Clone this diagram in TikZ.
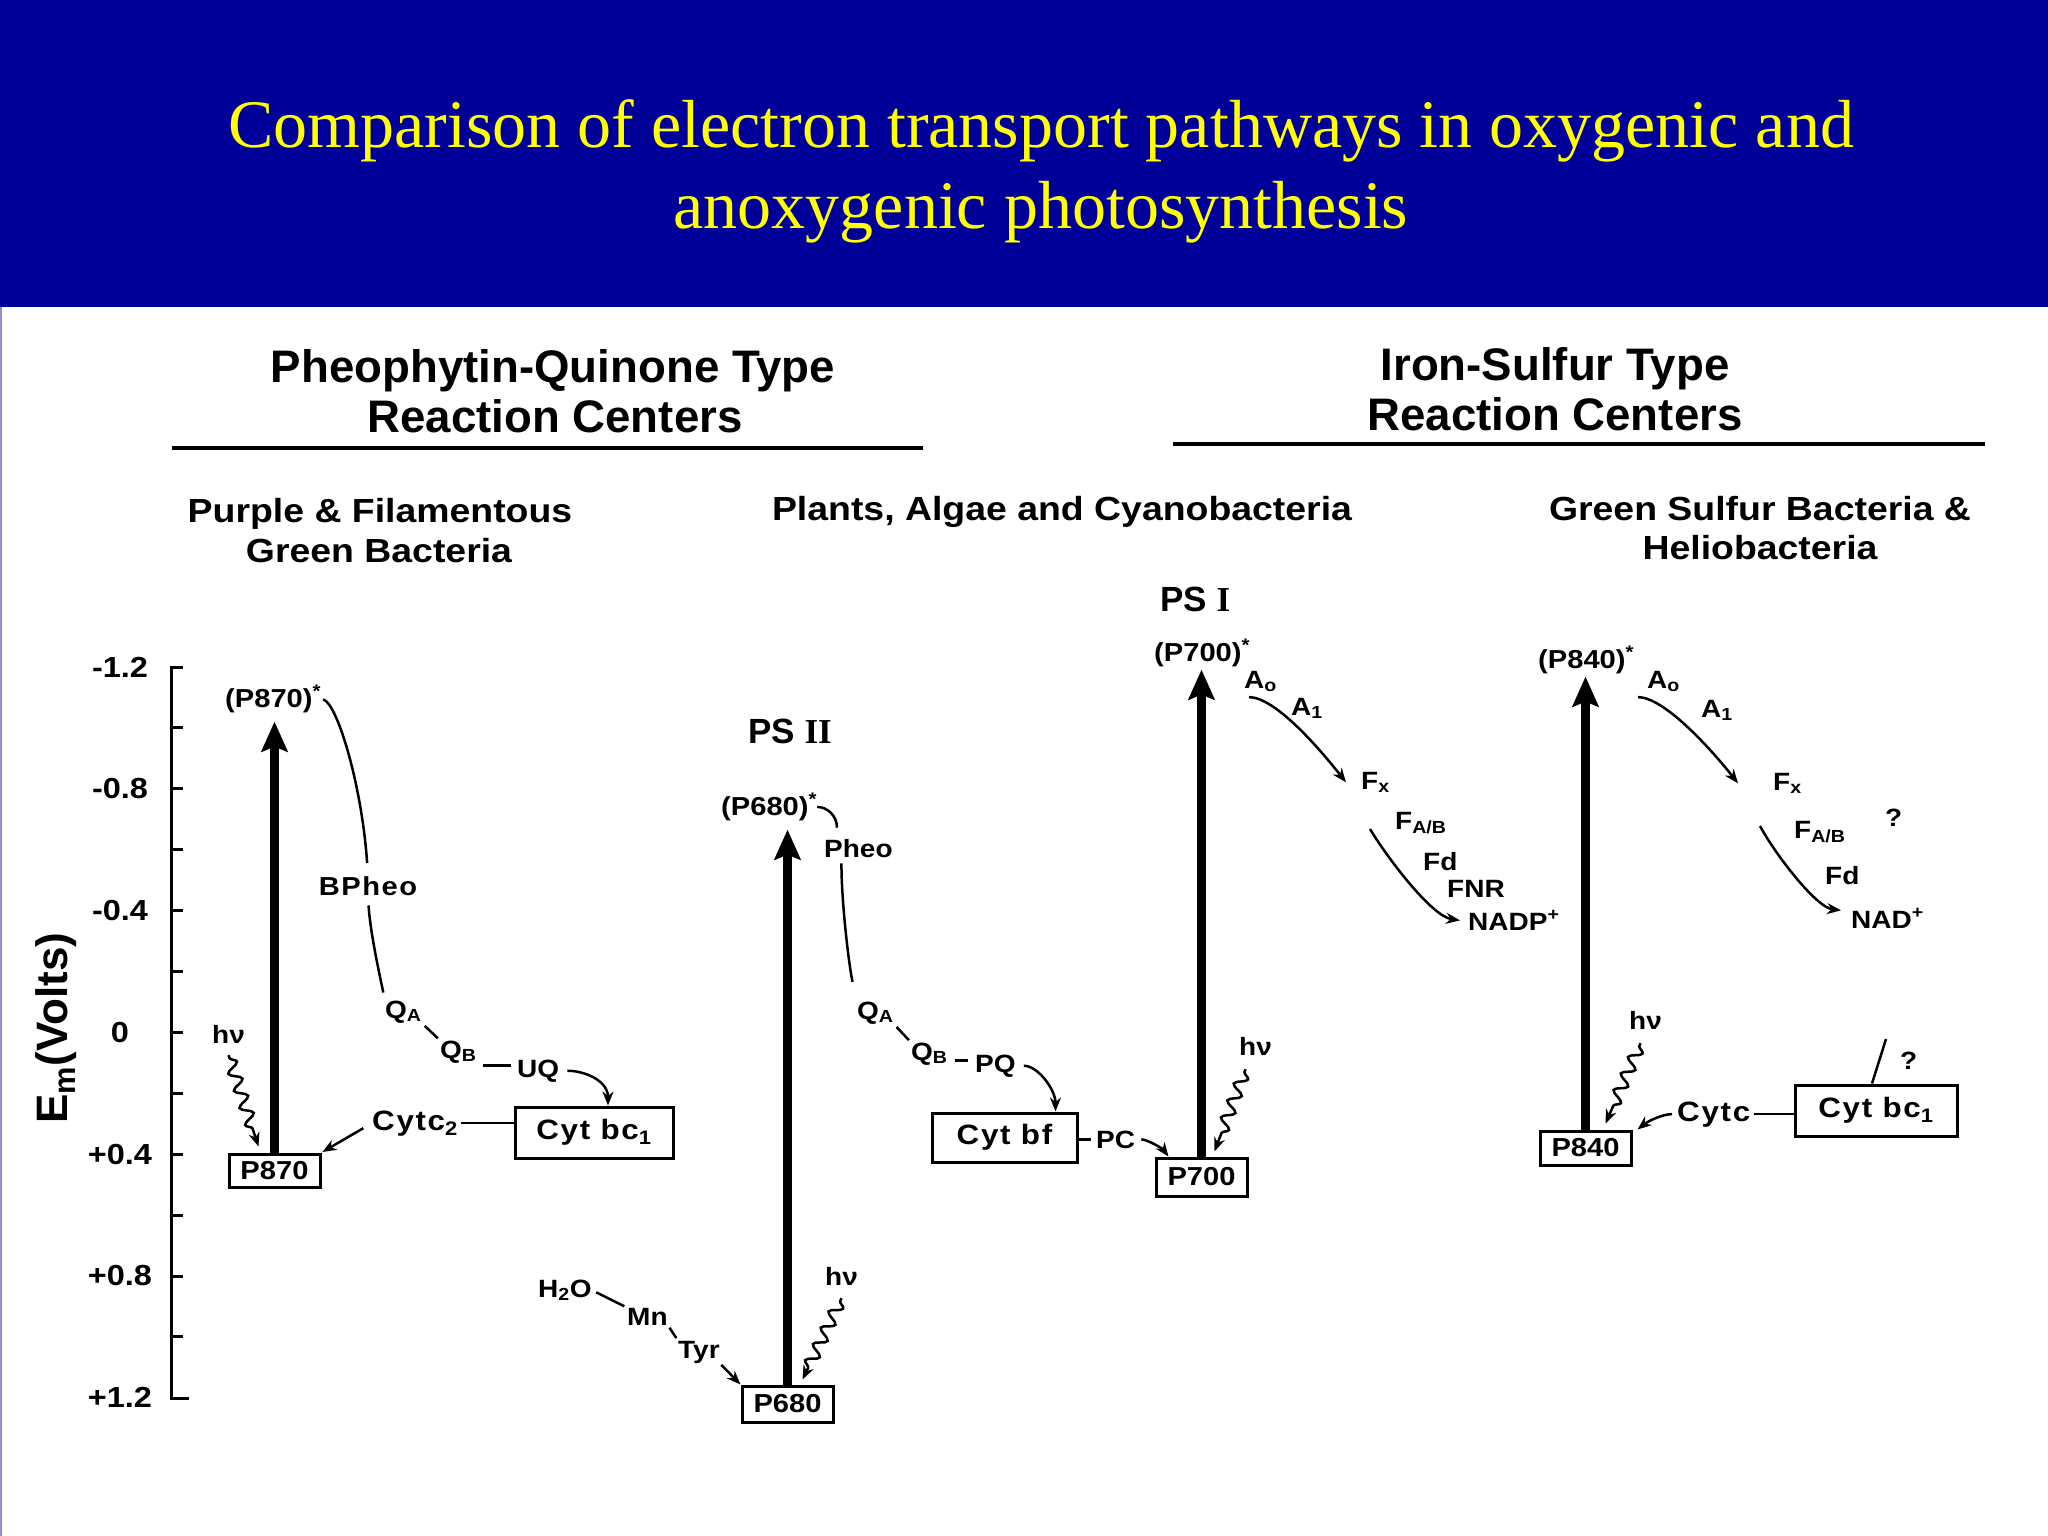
\documentclass[tikz,border=0pt]{standalone}
\usepackage{fontspec}
\setmainfont{Liberation Sans}
\newfontfamily\ls{Liberation Sans}[FakeStretch=1.12]
\newfontfamily\lsw{Liberation Sans}[FakeStretch=1.12,LetterSpace=6]
\newfontfamily\hs{Liberation Sans}
\newfontfamily\rs{Liberation Serif}
\usetikzlibrary{arrows.meta,decorations.pathmorphing,calc}
\definecolor{bandblue}{RGB}{0,0,153}
\definecolor{titleyellow}{RGB}{255,255,0}
\definecolor{edgelav}{RGB}{150,140,210}
\newcommand\fsz[1]{\fontsize{#1}{#1}\selectfont}
\begin{document}
\begin{tikzpicture}[x=1pt,y=-1pt,
  lab/.style={font=\ls\bfseries\fsz{25}, inner sep=0pt, anchor=base west},
  labw/.style={font=\lsw\bfseries\fsz{28}, inner sep=0pt, anchor=base west},
  starlab/.style={font=\ls\bfseries\fsz{26}, inner sep=0pt, anchor=base west},
  titletext/.style={font=\rs\fsz{68}, text=titleyellow, inner sep=0pt, anchor=base},
  hdr/.style={font=\hs\bfseries\fsz{45.6}, inner sep=0pt, anchor=base},
  subhdr/.style={font=\ls\bfseries\fsz{33.4}, inner sep=0pt, anchor=base},
  pslab/.style={font=\hs\bfseries\fsz{35}, inner sep=0pt, anchor=base west},
  axl/.style={font=\ls\bfseries\fsz{29}, inner sep=0pt, anchor=center},
  boxnode/.style={draw, line width=3pt, inner sep=0pt, font=\ls\bfseries\fsz{26}},
  cytbox/.style={draw, line width=3pt, inner sep=0pt, font=\lsw\bfseries\fsz{28}},
  conn/.style={line width=2.5pt},
  arr/.style={line width=2.5pt, -{Stealth[length=14pt,width=11pt]}},
  thickarr/.style={line width=9pt, -{Stealth[length=30pt,width=26pt,inset=5pt]}},
  wavy/.style={line width=2.5pt, -{Stealth[length=14pt,width=11pt]}, decorate,
    decoration={snake, amplitude=6pt, segment length=18pt, pre length=3pt, post length=12pt}},
  rulel/.style={line width=4pt}
]
\useasboundingbox (0,0) rectangle (2048,1536);
\fill[white] (0,0) rectangle (2048,1536);
\fill[bandblue] (0,0) rectangle (2048,307);
\fill[edgelav] (0,307) rectangle (2,1536);

% title
\node[titletext] (t1) at (1041,147) {Comparison of electron transport pathways in oxygenic and};
\node[titletext] (t2) at (1041,228) {anoxygenic photosynthesis};

% headers
\node[hdr] (h1a) at (553,382) {Pheophytin-Quinone Type};
\node[hdr] (h1b) at (555,432) {Reaction Centers};
\draw[rulel] (172,448) -- (923,448);
\node[hdr] (h2a) at (1555,380) {Iron-Sulfur Type};
\node[hdr] (h2b) at (1555,430) {Reaction Centers};
\draw[rulel] (1173,444) -- (1985,444);

\node[subhdr] (sh1a) at (380,522) {Purple \& Filamentous};
\node[subhdr] (sh1b) at (379,562) {Green Bacteria};
\node[subhdr] (sh2) at (1062,520) {Plants, Algae and Cyanobacteria};
\node[subhdr] (sh3a) at (1760,520) {Green Sulfur Bacteria \&};
\node[subhdr] (sh3b) at (1760,559) {Heliobacteria};

% axis
\draw[line width=3pt] (183,667) -- (171,667) -- (171,1398) -- (189,1398);
\foreach \k in {1,...,11} \draw[line width=3pt] (171,{667+60.9*\k}) -- (183,{667+60.9*\k});
\foreach \k/\t in {0/-1.2,2/-0.8,4/-0.4,6/0,8/+0.4,10/+0.8,12/+1.2}
  \node[axl] (ax\k) at (120,{667+60.9*\k}) {\t};
\node[font=\hs\bfseries\fsz{44}, inner sep=0pt, rotate=90] (ylab) at (56,1028) {E\textsubscript{m}(Volts)};

% ---------- column 1 : P870
\node[boxnode, minimum width=91pt, minimum height=33pt] (b870) at (274.5,1170.5) {P870};
\node[cytbox, minimum width=158pt, minimum height=51pt] (cbc1) at (594,1132.5) {Cyt bc\textsubscript{1}};
\node[starlab] (s870) at (225,707) {(P870)\textsuperscript{*}};
\node[labw, font=\lsw\bfseries\fsz{26}, anchor=base] (bpheo) at (368,895) {BPheo};
\node[lab] (qa1) at (385,1018) {Q\textsubscript{A}};
\node[lab] (qb1) at (440,1058) {Q\textsubscript{B}};
\node[lab] (uq1) at (517,1077) {UQ};
\node[labw] (c2) at (372,1130) {Cytc\textsubscript{2}};
\node[lab] (h1) at (212,1043) {hν};

\draw[thickarr, shorten >=9pt] (b870.north) -- (b870.north |- s870.south);
\draw[conn, shorten <=2pt, shorten >=13pt] (s870.east) .. controls +(16,4) and +(-6,-90) .. (bpheo.north);
\draw[conn, shorten <=10pt, shorten >=8pt] (bpheo.south) .. controls +(2,35) and +(-6,-28) .. (qa1.north west);
\draw[conn, shorten <=4pt, shorten >=3pt] (qa1.south east) -- (qb1.north west);
\draw[conn] ($(qb1.east |- uq1.west)+(6,-5)$) -- ($(uq1.west)+(-6,-5)$);
\draw[arr, shorten <=8pt] (uq1.east) .. controls +(25,0) and +(0,-25) .. ([xshift=14pt]cbc1.north);
\draw[conn, shorten <=3pt] (c2.east) -- (c2.east -| cbc1.west);
\draw[arr, shorten <=10pt, shorten >=1pt] (c2.west) -- (b870.north east);
\draw[wavy] ([yshift=-12pt]h1.south) -- ([xshift=-16pt,yshift=6pt]b870.north);

% ---------- column 2 : PS II
\node[pslab] (ps2) at (748,743) {PS {\rs\bfseries II}};
\node[boxnode, minimum width=91pt, minimum height=36pt] (b680) at (787.5,1404) {P680};
\node[cytbox, minimum width=145pt, minimum height=49pt] (cbf) at (1004.5,1137.5) {Cyt bf};
\node[starlab] (s680) at (721,815) {(P680)\textsuperscript{*}};
\node[lab] (pheo2) at (824,857) {Pheo};
\node[lab] (qa2) at (857,1019) {Q\textsubscript{A}};
\node[lab] (qb2) at (911,1060) {Q\textsubscript{B}};
\node[lab] (pq2) at (975,1072) {PQ};
\node[lab] (pc) at (1096,1148) {PC};
\node[lab] (h2o) at (538,1297) {H\textsubscript{2}O};
\node[lab] (mn) at (627,1325) {Mn};
\node[lab] (tyr) at (678,1358) {Tyr};
\node[lab] (h2) at (825,1285) {hν};

% ---------- column 3 : PS I (nodes first, used by PC arrow)
\node[pslab] (ps1) at (1160,611) {PS {\rs\bfseries I}};
\node[boxnode, minimum width=91pt, minimum height=38pt] (b700) at (1201.5,1177) {P700};
\node[starlab] (s700) at (1154,661) {(P700)\textsuperscript{*}};
\node[lab] (ao1) at (1244,688) {A\textsubscript{o}};
\node[lab] (a11) at (1291,715) {A\textsubscript{1}};
\node[lab] (fx1) at (1361,789) {F\textsubscript{x}};
\node[lab] (fab1) at (1395,829) {F\textsubscript{A/B}};
\node[lab] (fd1) at (1423,870) {Fd};
\node[lab] (fnr) at (1447,897) {FNR};
\node[lab] (nadp) at (1468,930) {NADP\textsuperscript{+}};
\node[lab] (h3) at (1239,1055) {hν};

\draw[thickarr, shorten >=9pt] (b680.north) -- (b680.north |- s680.south);
\draw[conn] (s680.east) .. controls +(10,0) and +(0,-12) .. ([xshift=13pt,yshift=11pt]pheo2.north west);
\draw[conn, shorten <=6pt, shorten >=20pt] ([xshift=-17pt]pheo2.south) .. controls +(0,45) and +(-8,-35) .. (qa2.north west);
\draw[conn, shorten <=4pt, shorten >=3pt] (qa2.south east) -- (qb2.north west);
\draw[conn] ($(qb2.east |- pq2.west)+(7,-5)$) -- ($(pq2.west)+(-7,-5)$);
\draw[arr, shorten <=8pt] (pq2.east) .. controls +(22,0) and +(0,-22) .. ([xshift=51pt]cbf.north);
\draw[conn, shorten >=5pt] (cbf.east |- pc.west) -- (pc.west);
\draw[arr, shorten <=6pt] (pc.east) .. controls +(12,0) and +(-6,-8) .. ([xshift=14pt]b700.north west);
\draw[conn, shorten <=5pt, shorten >=3pt] (h2o.east) -- (mn.north west);
\draw[conn, shorten <=3pt, shorten >=3pt] (mn.south east) -- (tyr.north west);
\draw[arr, shorten <=2pt] (tyr.south east) -- (b680.north west);
\draw[wavy] ([yshift=-13pt]h2.south) -- ([xshift=15pt,yshift=5pt]b680.north);

\draw[thickarr, shorten >=3pt] (b700.north) -- (b700.north |- s700.south);
\draw[arr] ([xshift=5pt,yshift=-5pt]ao1.south west) .. controls +(25,0) and +(-30,-38) .. ([xshift=-15pt]fx1.west);
\draw[arr] ([xshift=-25pt]fab1.base west) .. controls +(18,30) and +(-28,-4) .. ([xshift=-8pt]nadp.west);
\draw[wavy] ([xshift=-10pt,yshift=-14pt]h3.south) -- ([xshift=13pt,yshift=5pt]b700.north);

% ---------- column 4 : P840
\node[boxnode, minimum width=91pt, minimum height=34pt] (b840) at (1585.5,1148) {P840};
\node[cytbox, minimum width=162pt, minimum height=51pt] (cbc4) at (1876,1110.5) {Cyt bc\textsubscript{1}};
\node[starlab] (s840) at (1538,668) {(P840)\textsuperscript{*}};
\node[lab] (ao2) at (1647,688) {A\textsubscript{o}};
\node[lab] (a12) at (1701,717) {A\textsubscript{1}};
\node[lab] (fx2) at (1773,790) {F\textsubscript{x}};
\node[lab] (q1) at (1885,826) {?};
\node[lab] (fab2) at (1794,838) {F\textsubscript{A/B}};
\node[lab] (fd2) at (1825,884) {Fd};
\node[lab] (nad) at (1851,928) {NAD\textsuperscript{+}};
\node[lab] (h4) at (1629,1029) {hν};
\node[labw] (cytc4) at (1677,1121) {Cytc};
\node[lab] (q2) at (1900,1069) {?};
\coordinate (sl) at (1886,1039);

\draw[thickarr, shorten >=3pt] (b840.north) -- (b840.north |- s840.south);
\draw[arr] ([xshift=-9pt,yshift=-5pt]ao2.south west) .. controls +(25,0) and +(-30,-38) .. ([xshift=-35pt]fx2.west);
\draw[arr] ([xshift=-34pt,yshift=12pt]fab2.base west) .. controls +(15,28) and +(-25,-3) .. ([xshift=-10pt,yshift=8pt]nad.west);
\draw[wavy] ([xshift=-5pt,yshift=-14pt]h4.south) -- ([xshift=20pt,yshift=6pt]b840.north);
\draw[arr, shorten <=5pt] (cytc4.west) .. controls +(-15,0) and +(10,-8) .. ([xshift=5pt]b840.north east);
\draw[conn, shorten <=4pt] (cytc4.east) -- (cytc4.east -| cbc4.west);
\draw[conn] ([xshift=-4pt]cbc4.north) -- (sl);
\end{tikzpicture}
\end{document}
